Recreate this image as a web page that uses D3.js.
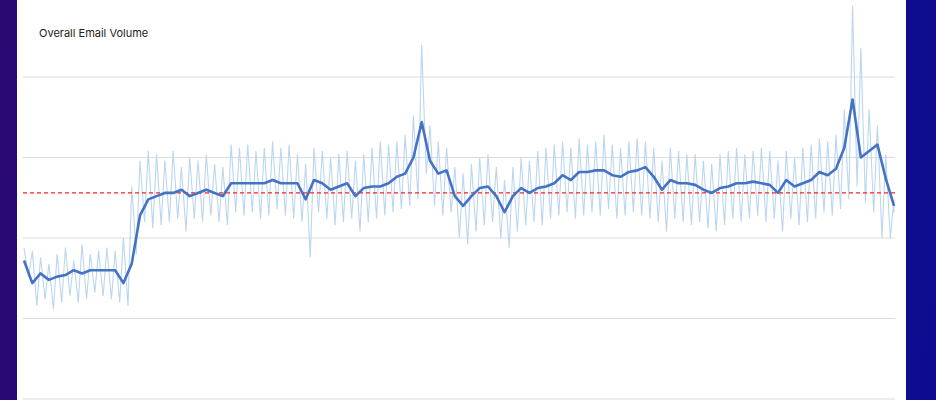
<!DOCTYPE html>
<html>
<head>
<meta charset="utf-8">
<script src="https://cdn.jsdelivr.net/npm/d3@7"></script>
<style>
  body { margin: 0; width: 936px; height: 400px; overflow: hidden;
         background: linear-gradient(100deg, #2a0872 0%, #1a0c86 50%, #0d0c90 100%); }
  #panel { position: absolute; left: 17px; top: 0; width: 889px; height: 400px; background: #fff; }
</style>
</head>
<body>
<div id="panel"></div>
<script>
// weekly smoothed volume (index units)
var smooth = [43,36,39,37,38,38.5,40,39,40,40,40,40,36,42,57,62,63,64,64,65,63,64,65,64,63,67,67,67,67,67,68,67,67,67,62,68,67,65,66,67,63,65.5,66,66,67,69,70,75,86,74,70,71,63,60,63,65.5,66,63,58,63,65.5,64,65.5,66,67,69.5,68,70.5,70.5,71,71,69.5,69,70.5,71,72,69,65,68,67,67,66.5,65,64,65.5,66,67,67,67.5,67,66.5,64,68,66,67,68,70.5,69.5,71.5,78,93,75,77,79,68.5,60];
// weekday peaks and weekend troughs of the daily series
var highs = [47,46,44,42,45,47,43,48,45,46,47,46,50,66,74,77,76,74,77,72,75,74,76,73,72,79,78,79,77,78,80,78,79,76,73,78,77,75,76,77,74,76,78,80,79,80,82,88,110,85,80,78,72,70,73,75,76,72,68,72,75,74,77,78,79,80,78,81,79,80,82,79,78,80,81,80,78,74,78,77,76,76,74,73,76,77,78,76,77,78,77,74,77,75,78,79,81,80,82,90,122,109,90,85,76,62];
var lows = [38,29,31,28,30,32,30,31,33,32,31,30,29,45,55,53,54,55,56,52,56,55,57,55,54,58,57,58,56,57,59,57,56,55,44,58,56,54,55,56,52,55,56,57,58,59,60,62,70,60,57,58,50,48,52,54,55,50,47,52,54,55,54,56,57,58,56,57,58,57,59,56,57,58,57,56,55,52,56,55,54,55,53,52,54,56,55,56,57,55,56,52,56,54,55,56,58,57,59,62,66,61,58,50,50,58];
var yTicks = [0, 25, 50, 75, 100];
var baseline = 64;
var title = "Overall Email Volume";

var svg = d3.select("body").append("svg")
  .attr("width", 936).attr("height", 400)
  .style("position", "absolute").style("left", 0).style("top", 0);

var x = d3.scaleLinear().domain([0, smooth.length - 1]).range([24, 894]);
var y = d3.scaleLinear().domain([0, 100]).range([399, 77]);

// gridlines
svg.append("g").selectAll("line").data(yTicks).join("line")
  .attr("x1", 23).attr("x2", 895)
  .attr("y1", d => y(d)).attr("y2", d => y(d))
  .attr("stroke", "#dcdcdc").attr("stroke-width", 1);

// daily series: peak then trough for each week
var daily = [];
highs.forEach((h, i) => {
  daily.push([i, h]);
  if (i < lows.length - 1) daily.push([i + 0.55, lows[i]]);
});
daily.push([lows.length - 1, lows[lows.length - 1]]);

var line = d3.line().x(d => x(d[0])).y(d => y(d[1]));
svg.append("path").datum(daily)
  .attr("d", line).attr("fill", "none")
  .attr("stroke", "#bcd6ef").attr("stroke-width", 1.1);

// baseline
svg.append("line")
  .attr("x1", 23).attr("x2", 895)
  .attr("y1", y(baseline)).attr("y2", y(baseline))
  .attr("stroke", "#ff2020").attr("stroke-width", 1.2)
  .attr("stroke-dasharray", "4,3");

// smoothed
svg.append("path").datum(smooth.map((v, i) => [i, v]))
  .attr("d", line).attr("fill", "none")
  .attr("stroke", "#4472c4").attr("stroke-width", 2.6)
  .attr("stroke-linejoin", "round");

svg.append("text").attr("x", 39).attr("y", 37)
  .attr("font-family", "Inter, 'Open Sans', sans-serif").attr("font-size", 11)
  .attr("fill", "#222").text(title);
</script>
</body>
</html>
